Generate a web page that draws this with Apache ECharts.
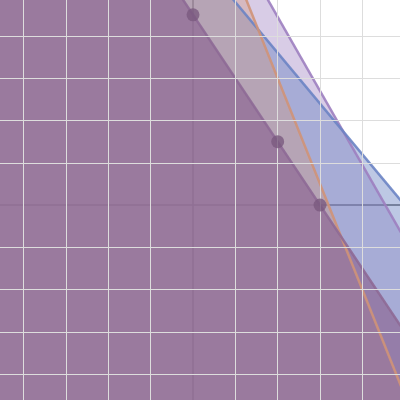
<!DOCTYPE html>
<html>
<head>
<meta charset="utf-8">
<script src="https://cdn.jsdelivr.net/npm/echarts@6/dist/echarts.min.js"></script>
<style>html,body{margin:0;padding:0;background:#fff}#main{width:400px;height:400px}</style>
</head>
<body>
<div id="main"></div>
<script>
var xEnds = [-5, 5];
// boundary lines, y at x=-5 and x=5
var redLine = [12, -3];
var orangeLine = [20.5, -4.5];
var blueLine = [12, 0];
var purpleLine = [16.7, -0.8];
var points = [[0, 4.5], [2, 1.5], [3, 0]];
var gridTicks = [-4, -3, -2, -1, 1, 2, 3, 4];

var chart = echarts.init(document.getElementById("main"));

function area(ys, color, op) {
  return {
    type: "line",
    data: xEnds.map(function (x, i) { return [x, ys[i]]; }),
    symbol: "none",
    lineStyle: {color: color, width: 2.5, opacity: 0.9},
    areaStyle: {color: color, opacity: op, origin: "start"},
    z: 2
  };
}

var gridLines = gridTicks.map(function (v) { return {xAxis: v}; })
  .concat(gridTicks.map(function (v) { return {yAxis: v}; }));

chart.setOption({
  animation: false,
  grid: {left: 0, right: 0, top: 0, bottom: 0},
  xAxis: {
    type: "value", min: -4.56, max: 4.89,
    axisLine: {onZero: true, lineStyle: {color: "#555", width: 1.5}},
    axisTick: {show: false}, axisLabel: {show: false}, splitLine: {show: false}
  },
  yAxis: {
    type: "value", min: -4.61, max: 4.85,
    axisLine: {onZero: true, lineStyle: {color: "#555", width: 1.5}},
    axisTick: {show: false}, axisLabel: {show: false}, splitLine: {show: false}
  },
  series: [
    {
      type: "line", data: [], z: 1,
      markLine: {silent: true, symbol: "none", label: {show: false},
        lineStyle: {color: "#ddd", type: "solid", width: 1}, data: gridLines}
    },
    area(purpleLine, "#9d80c0", 0.4),
    area(blueLine, "#6c84c4", 0.45),
    area(orangeLine, "#d09478", 0.35),
    area(redLine, "#8e6a96", 0.7),
    {
      type: "scatter", data: points, symbolSize: 13,
      itemStyle: {color: "#7a5a80"}, z: 5
    }
  ]
});
</script>
</body>
</html>
